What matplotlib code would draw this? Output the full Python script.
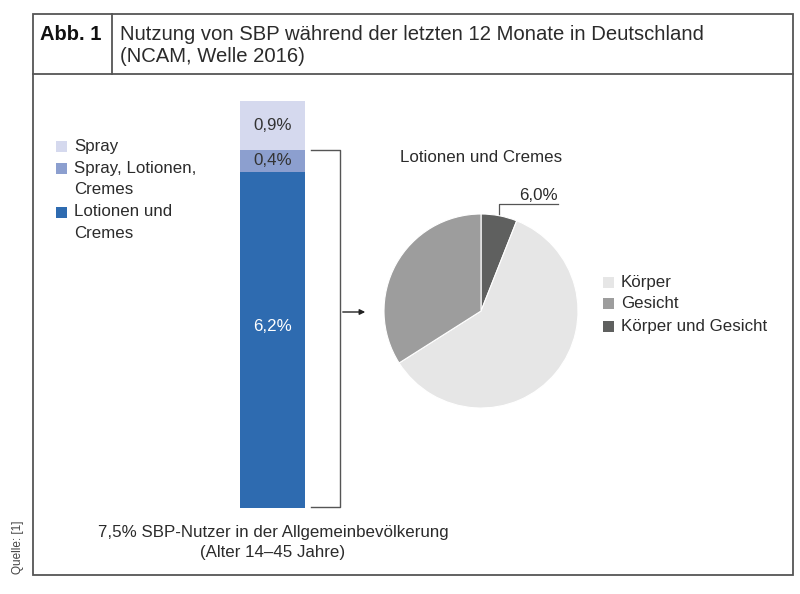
"""
Abb. 1 - Nutzung von SBP (stacked bar + pie of Lotionen und Cremes).
Overlay axes uses pixel coordinates (800x594) for frame, bracket and texts.
"""

import matplotlib
import matplotlib.pyplot as plt
from matplotlib.patches import Rectangle

matplotlib.use("Agg")

plt.rcParams["font.family"] = ["Liberation Sans", "DejaVu Sans"]

W, H = 800, 594
FS = 12.2

# ---------------------------------------------------------------------------
# Data
# ---------------------------------------------------------------------------
bar_labels = ["Lotionen und\nCremes", "Spray, Lotionen,\nCremes", "Spray"]
bar_values = [6.2, 0.4, 0.9]
bar_colors = ["#2e6bb0", "#8c9fcf", "#d5d9ee"]
bar_text_colors = ["white", "#333333", "#333333"]

pie_labels = ["Körper", "Gesicht", "Körper und Gesicht"]
pie_values = [60.0, 34.0, 6.0]
pie_colors = ["#e6e6e6", "#9d9d9d", "#5f605f"]

TITLE_TAG = "Abb. 1"
TITLE = "Nutzung von SBP während der letzten 12 Monate in Deutschland\n(NCAM, Welle 2016)"
PIE_TITLE = "Lotionen und Cremes"
BAR_CAPTION = "7,5% SBP-Nutzer in der Allgemeinbevölkerung\n(Alter 14–45 Jahre)"
SOURCE = "Quelle: [1]"


def fmt(v: float) -> str:
    return f"{v:.1f}%".replace(".", ",")


def box(px_left, px_top, px_w, px_h):
    """pixel box -> figure fraction rect"""
    return [px_left / W, (H - px_top - px_h) / H, px_w / W, px_h / H]


fig = plt.figure(figsize=(W / 100, H / 100), dpi=100)

# overlay in pixel coordinates
ov = fig.add_axes([0, 0, 1, 1])
ov.set_xlim(0, W)
ov.set_ylim(H, 0)
ov.axis("off")

line_c = "#555555"
text_c = "#2b2b2b"

# frame + header
ov.add_patch(Rectangle((33, 14), 760, 561, fill=False, edgecolor=line_c, lw=1.3))
ov.plot([33, 793], [74, 74], color=line_c, lw=1.3)
ov.plot([112, 112], [14, 74], color=line_c, lw=1.3)
ov.text(71, 35, TITLE_TAG, ha="center", va="center", fontsize=14.5,
        fontweight="bold", color="#111111")
ov.text(120, 46, TITLE, ha="left", va="center", fontsize=14.6, color=text_c,
        linespacing=1.2)

# ---------------------------------------------------------------------------
# stacked bar
# ---------------------------------------------------------------------------
total = sum(bar_values)
label_pos = [0.54, 0.5, 0.5]
axb = fig.add_axes(box(240, 101, 65, 407))
bottom = 0.0
for v, c, tc, lp in zip(bar_values, bar_colors, bar_text_colors, label_pos):
    axb.bar([0], [v], bottom=bottom, width=1.0, color=c, edgecolor="none")
    axb.text(0, bottom + v * lp, fmt(v), ha="center", va="center",
             fontsize=FS, color=tc)
    bottom += v
axb.set_xlim(-0.5, 0.5)
axb.set_ylim(0, total)
axb.axis("off")

# bar legend (top to bottom: Spray, Spray/Lotionen, Lotionen)
leg_y = [146, 168, 212]
for lab, c, y in zip(bar_labels[::-1], bar_colors[::-1], leg_y):
    ov.add_patch(Rectangle((56, y - 5.5), 11, 11, color=c, lw=0))
    ov.text(74, y, lab.split("\n")[0], ha="left", va="center", fontsize=FS, color=text_c)
    if "\n" in lab:
        ov.text(74, y + 21, lab.split("\n")[1], ha="left", va="center",
                fontsize=FS, color=text_c)

ov.text(273, 532, BAR_CAPTION.split("\n")[0], ha="center", va="center",
        fontsize=FS, color=text_c)
ov.text(273, 552, BAR_CAPTION.split("\n")[1], ha="center", va="center",
        fontsize=FS, color=text_c)
ov.text(18, 547, SOURCE, ha="center", va="center", rotation=90,
        fontsize=8.5, color="#444444")

# bracket + arrow
ov.plot([311, 340, 340, 311], [150, 150, 507, 507], color=line_c, lw=1)
ov.annotate("", xy=(368, 312), xytext=(340, 312),
            arrowprops=dict(arrowstyle="-|>", color="#222222", lw=1,
                            mutation_scale=8))

# ---------------------------------------------------------------------------
# pie (clockwise from top: Körper und Gesicht, Körper, Gesicht)
# ---------------------------------------------------------------------------
order = [2, 0, 1]
axp = fig.add_axes(box(384, 214, 194, 194))
axp.pie([pie_values[i] for i in order], colors=[pie_colors[i] for i in order],
        startangle=90, counterclock=False, radius=1.0,
        wedgeprops=dict(edgecolor="white", linewidth=0.8))
axp.set_xlim(-1, 1)
axp.set_ylim(-1, 1)

ov.text(481, 158, PIE_TITLE, ha="center", va="center", fontsize=FS, color=text_c)
ov.text(427, 298, fmt(pie_values[1]), ha="center", va="center", fontsize=FS, color=text_c)
ov.text(516, 358, fmt(pie_values[0]), ha="center", va="center", fontsize=FS, color=text_c)
ov.text(538, 195, fmt(pie_values[2]), ha="center", va="center", fontsize=FS, color=text_c)
ov.plot([499, 499, 558], [226, 204, 204], color=line_c, lw=0.9)

pleg_y = [282, 303, 326]
for lab, c, y in zip(pie_labels, pie_colors, pleg_y):
    ov.add_patch(Rectangle((603, y - 5.5), 11, 11, color=c, lw=0))
    ov.text(621, y, lab, ha="left", va="center", fontsize=FS, color=text_c)

fig.savefig("out.png", dpi=100)
